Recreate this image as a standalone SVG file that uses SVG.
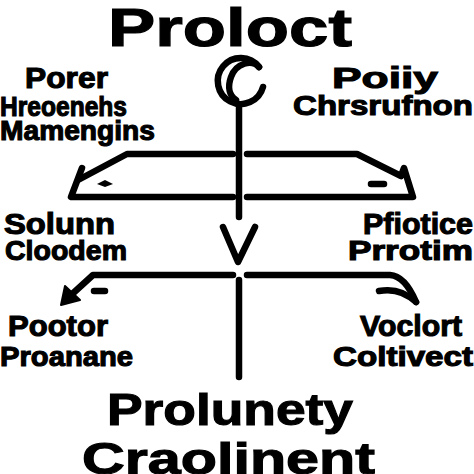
<svg xmlns="http://www.w3.org/2000/svg" width="474" height="474" viewBox="0 0 474 474">
<style>
.t{font-family:"Liberation Sans",Arial,sans-serif;font-weight:bold;fill:#000;stroke:#000;stroke-width:1.1}
.ln{fill:none;stroke:#000;stroke-width:6.5;stroke-linecap:round;stroke-linejoin:round}
</style>
<rect width="474" height="474" fill="#fff"/>
<g id="title"><text class="t" x="108" y="46" font-size="53" textLength="244" lengthAdjust="spacingAndGlyphs">Proloct</text></g>
<g id="icon">
<path class="ln" d="M259,67 A23,23 0 1 0 263,87"/>
<path class="ln" d="M259,67 C252,59 236,63 231,77 C227,88 230,96 236,100"/>
</g>
<g id="left-top">
<text class="t" x="25" y="88" font-size="30" textLength="83" lengthAdjust="spacingAndGlyphs">Porer</text>
<text class="t" x="0" y="116" font-size="27" textLength="127" lengthAdjust="spacingAndGlyphs">Hreoenehs</text>
<text class="t" x="0" y="140" font-size="27" textLength="155" lengthAdjust="spacingAndGlyphs">Mamengins</text>
</g>
<g id="right-top">
<text class="t" x="332" y="88" font-size="30" textLength="106" lengthAdjust="spacingAndGlyphs">Poiiy</text>
<text class="t" x="293" y="115" font-size="28" textLength="180" lengthAdjust="spacingAndGlyphs">Chrsrufnon</text>
</g>
<g id="left-mid">
<text class="t" x="4" y="234" font-size="29" textLength="111" lengthAdjust="spacingAndGlyphs">Solunn</text>
<text class="t" x="5" y="260" font-size="27" textLength="122" lengthAdjust="spacingAndGlyphs">Cloodem</text>
</g>
<g id="right-mid">
<text class="t" x="363" y="234" font-size="29" textLength="110" lengthAdjust="spacingAndGlyphs">Pfiotice</text>
<text class="t" x="348" y="260" font-size="27" textLength="125" lengthAdjust="spacingAndGlyphs">Prrotim</text>
</g>
<g id="left-bottom">
<text class="t" x="8" y="336" font-size="29" textLength="100" lengthAdjust="spacingAndGlyphs">Pootor</text>
<text class="t" x="0" y="366" font-size="27" textLength="133" lengthAdjust="spacingAndGlyphs">Proanane</text>
</g>
<g id="right-bottom">
<text class="t" x="360" y="336" font-size="29" textLength="102" lengthAdjust="spacingAndGlyphs">Voclort</text>
<text class="t" x="333" y="366" font-size="27" textLength="140" lengthAdjust="spacingAndGlyphs">Coltivect</text>
</g>
<g id="footer">
<text class="t" x="107" y="425" font-size="45" textLength="246" lengthAdjust="spacingAndGlyphs">Prolunety</text>
<text class="t" x="82" y="474" font-size="45" textLength="293" lengthAdjust="spacingAndGlyphs">Craolinent</text>
</g>
<g id="connectors">
<path class="ln" d="M239,108 L239,217"/>
<path class="ln" d="M223,227 L238,262 L255,227"/>
<path class="ln" d="M239,280 L239,377"/>
<path class="ln" d="M233,154 L127,154 L80,179"/>
<path class="ln" d="M82,168 L71,197 L233,197"/>
<path d="M97,184 L105,180 L113,184 L105,187 Z" fill="#000"/>
<path class="ln" d="M247,154 L357,154 L401,176 L404,168 L413,197 L247,197"/>
<path class="ln" d="M371,184 L384,184"/>
<path class="ln" d="M233,275 L93,275 L70,296"/>
<path d="M61,305 L65,286 L80,300 Z" fill="#000" stroke="#000" stroke-width="2" stroke-linejoin="round"/>
<path class="ln" d="M94,291 L105,291"/>
<path class="ln" d="M247,275 L390,275 Q405,276 416,302"/>
<path class="ln" d="M379,291 Q400,287 416,302"/>
</g>
</svg>
